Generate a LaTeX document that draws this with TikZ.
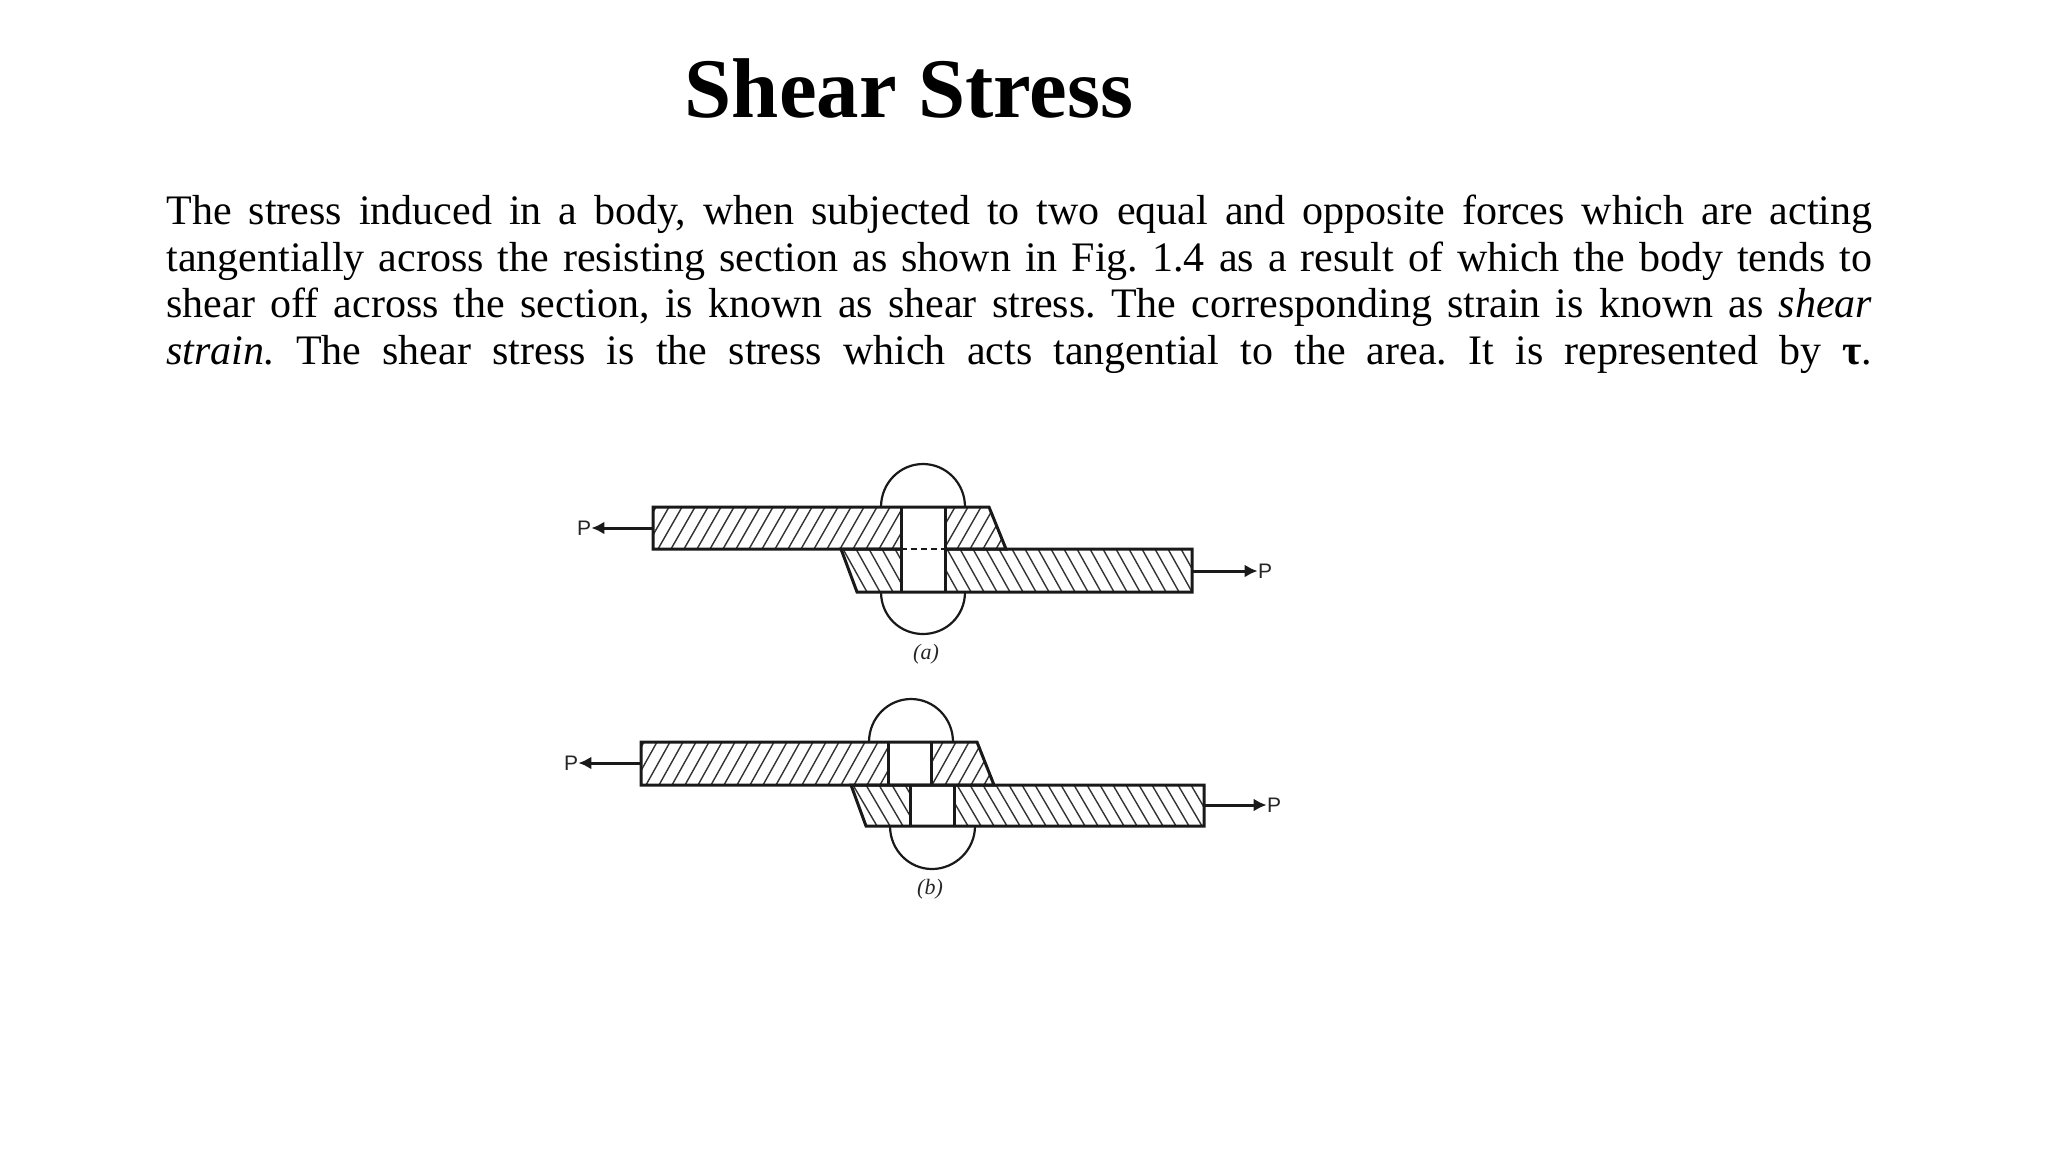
\documentclass[tikz,border=0pt]{standalone}
\usepackage{fontspec}
\usetikzlibrary{arrows.meta}
\setmainfont{Liberation Serif}
\newfontfamily\labelfont{Liberation Sans}

\tikzset{
  platefill/.style={line width=1.5pt,draw=black!90},
  hatchline/.style={line width=0.7pt,black!80},
  rivethead/.style={line width=1.1pt,black!90},
  forcearrow/.style={line width=1.5pt,black!90,-{Latex[length=6.5pt,width=6.5pt]}},
  forcelabel/.style={font=\labelfont\fontsize{10.5}{12}\selectfont,black!85,inner sep=0pt},
  figlabel/.style={font=\itshape\fontsize{11}{13}\selectfont,black!85,inner sep=0pt},
}

\begin{document}
\begin{tikzpicture}[x=0.5pt,y=-0.5pt]
  \useasboundingbox (0,0) rectangle (2048,1152);

  \node[font=\bfseries\fontsize{42.4}{48}\selectfont,inner sep=0pt] (title) at (909,88) {Shear Stress};
  \node[anchor=north west,inner sep=0pt,text width=853pt,align=justify,font=\fontsize{21}{23.2}\selectfont] (body) at (166,195) {%
    \parfillskip=0pt \tolerance=9999 \hbadness=10000 \hfuzz=3pt \frenchspacing
    The stress induced in a body, when subjected to two equal and opposite forces which are acting\linebreak
    tangentially across the resisting section as shown in Fig. 1.4 as a result of which the body tends to\linebreak
    shear off across the section, is known as shear stress. The corresponding strain is known as \textit{shear}\linebreak
    \textit{strain.} The shear stress is the stress which acts tangential to the area. It is represented by \textbf{τ}.\par};

  % figure (a)
  \begin{scope}
    \clip (653,507) -- (989,507) -- (1006,549) -- (653,549) -- cycle;
    \foreach \x in {632,645,...,1010}
      \draw[hatchline] (\x,549) -- ++(24,-42);
  \end{scope}
  \begin{scope}
    \clip (841,549) -- (1192,549) -- (1192,592) -- (857,592) -- cycle;
    \foreach \x in {830,843,...,1190}
      \draw[hatchline] (\x,549) -- ++(24,43);
  \end{scope}
  \fill[white] (901,507) rectangle (945,592);
  \draw[platefill] (901,549) -- (653,549) -- (653,507) -- (989,507) -- (1006,549) -- (945,549);
  \draw[platefill] (945,549) -- (1192,549) -- (1192,592) -- (857,592) -- (841,549) -- (901,549);
  \draw[platefill] (901,507) -- (901,592) (945,507) -- (945,592);
  \draw[rivethead,densely dashed] (901,549) -- (945,549);
  \draw[rivethead] (881,507) .. controls (881,483) and (900,464) .. (923,464) .. controls (946,464) and (965,483) .. (965,507);
  \draw[rivethead] (881,592) .. controls (881,616) and (900,634) .. (923,634) .. controls (946,634) and (965,616) .. (965,592);

  \coordinate (leftA) at (653,528);
  \coordinate (rightA) at (1192,571);
  \node[forcelabel] (pleftA) at (584,528) {P};
  \node[forcelabel] (prightA) at (1265,571) {P};
  \draw[forcearrow] (leftA) -- (pleftA.east);
  \draw[forcearrow] (rightA) -- (prightA.west);
  \node[figlabel] (capA) at (926,654) {(a)};

  % figure (b)
  \begin{scope}
    \clip (641,742) -- (977,742) -- (994,785) -- (641,785) -- cycle;
    \foreach \x in {620,633,...,1000}
      \draw[hatchline] (\x,785) -- ++(24,-43);
  \end{scope}
  \begin{scope}
    \clip (851,785) -- (1204,785) -- (1204,826) -- (866,826) -- cycle;
    \foreach \x in {840,853,...,1200}
      \draw[hatchline] (\x,785) -- ++(24,41);
  \end{scope}
  \fill[white] (888,742) rectangle (931,785);
  \fill[white] (910,785) rectangle (954,826);
  \draw[platefill] (641,742) -- (977,742) -- (994,785) -- (641,785) -- cycle;
  \draw[platefill] (851,785) -- (1204,785) -- (1204,826) -- (866,826) -- cycle;
  \draw[platefill] (888,742) -- (888,785) (931,742) -- (931,785);
  \draw[platefill] (910,785) -- (910,826) (954,785) -- (954,826);
  \draw[rivethead] (869,742) .. controls (869,718) and (888,699) .. (911,699) .. controls (934,699) and (953,718) .. (953,742);
  \draw[rivethead] (890,826) .. controls (890,850) and (909,869) .. (932,869) .. controls (955,869) and (975,850) .. (975,826);

  \coordinate (leftB) at (641,763);
  \coordinate (rightB) at (1204,805);
  \node[forcelabel] (pleftB) at (571,763) {P};
  \node[forcelabel] (prightB) at (1274,805) {P};
  \draw[forcearrow] (leftB) -- (pleftB.east);
  \draw[forcearrow] (rightB) -- (prightB.west);
  \node[figlabel] (capB) at (930,889) {(b)};
\end{tikzpicture}
\end{document}
